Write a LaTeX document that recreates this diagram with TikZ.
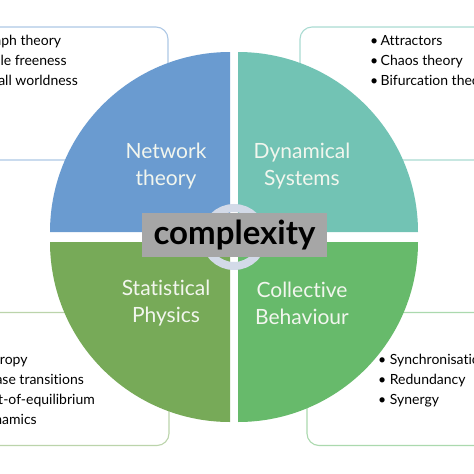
\documentclass[tikz,border=0pt]{standalone}
\usepackage{fontspec}
\setmainfont[Ligatures=NoCommon]{Lato}
\usetikzlibrary{positioning}
\definecolor{cxblue}{HTML}{6A9BD0}
\definecolor{cxteal}{HTML}{72C3B4}
\definecolor{cxolive}{HTML}{77AA58}
\definecolor{cxgreen}{HTML}{67BA6B}
\definecolor{cxring}{HTML}{D3DAE8}
\definecolor{cxgray}{HTML}{A6A6A6}
\definecolor{cxlabel}{HTML}{F2F6EE}

\begin{document}
\begin{tikzpicture}[x=1pt,y=1pt,
  listbox/.style={draw,line width=1.1pt,rounded corners=12pt,fill=white,minimum height=133pt},
  qlabel/.style={text=cxlabel,align=center,font=\fontsize{21}{27}\selectfont},
  items/.style={align=left,inner sep=0pt,font=\fontsize{14}{20}\selectfont}]
\useasboundingbox (0,0) rectangle (474,-474);
\clip (0,0) rectangle (474,-474);
% boxes behind the pie
\node[listbox,draw=cxblue!55,minimum width=190pt] (bnet) at (73,-93.5) {};
\node[listbox,draw=cxteal!60,minimum width=200pt] (bdyn) at (400,-93.5) {};
\node[listbox,draw=cxolive!50,minimum width=190pt] (bstat) at (74,-379) {};
\node[listbox,draw=cxgreen!55,minimum width=200pt] (bcoll) at (407,-379) {};
% pie quadrants
\fill[cxblue] (230,-232) -- ++(-180,0) arc[start angle=180,end angle=90,radius=180pt] -- cycle;
\fill[cxteal] (238,-232) -- ++(0,180) arc[start angle=90,end angle=0,radius=180pt] -- cycle;
\fill[cxolive] (230,-242) -- ++(-180,0) arc[start angle=180,end angle=270,radius=180pt] -- cycle;
\fill[cxgreen] (238,-242) -- ++(0,-180) arc[start angle=270,end angle=360,radius=180pt] -- cycle;
% quadrant labels
\node[qlabel] (lnet) at (166,-166) {Network\\theory};
\node[qlabel] (ldyn) at (302,-166) {Dynamical\\Systems};
\node[qlabel] (lstat) at (166,-303) {Statistical\\Physics};
\node[qlabel] (lcoll) at (302,-303) {Collective\\Behaviour};
% item lists
\node[items,anchor=north east] (inet) at (78,-35) {\textbullet~Graph theory\\\textbullet~Scale freeness\\\textbullet~Small worldness};
\node[items,anchor=north west] (idyn) at (370,-35) {\textbullet\,Attractors\\\textbullet\,Chaos theory\\\textbullet\,Bifurcation theory};
\node[items,anchor=north east] (istat) at (95,-354) {\textbullet~Entropy\\\textbullet~Phase transitions\\\textbullet~Out-of-equilibrium\\\phantom{\textbullet~}dynamics};
\node[items,anchor=north west] (icoll) at (378,-354) {\textbullet~Synchronisation\\\textbullet~Redundancy\\\textbullet~Synergy};
% centre
\draw[cxring,line width=8pt] (234,-237) circle[radius=29pt];
\node[fill=cxgray,minimum width=185pt,minimum height=44pt,inner sep=0pt,
  font=\fontsize{33}{33}\selectfont\bfseries] (cplx) at (234.5,-235) {complexity};
\end{tikzpicture}
\end{document}
